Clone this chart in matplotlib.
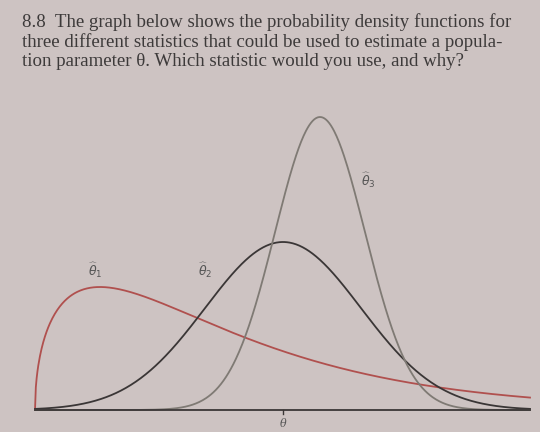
import numpy as np
import matplotlib
matplotlib.use("Agg")
import matplotlib.pyplot as plt

# curve parameters (pixel-space model of the printed densities)
base_y = 410
x0, x1 = 35, 530
red_shape, red_scale, red_peak = 1.5, 130, 123   # theta1: skewed
dark_mu, dark_sd, dark_peak = 283, 78, 168      # theta2: wide normal
gray_mu, gray_sd, gray_peak = 320, 45, 293      # theta3: narrow normal
labels = ["$\\widehat{\\theta}_1$", "$\\widehat{\\theta}_2$", "$\\widehat{\\theta}_3$"]
label_pos = [(95, 270), (205, 270), (368, 180)]
text_lines = ["8.8  The graph below shows the probability density functions for",
              "three different statistics that could be used to estimate a popula-",
              "tion parameter θ. Which statistic would you use, and why?"]

fig = plt.figure(figsize=(5.4, 4.32), dpi=100)
fig.patch.set_facecolor("#cdc3c2")
ax = fig.add_axes([0, 0, 1, 1])
ax.set_facecolor("#cdc3c2")
ax.set_xlim(0, 540); ax.set_ylim(432, 0); ax.axis("off")

x = np.linspace(x0, x1, 600)
t = (x - x0) / red_scale
tm = red_shape - 1
g = t**(red_shape - 1) * np.exp(-t)
gm = tm**(red_shape - 1) * np.exp(-tm)
ax.plot(x, base_y - red_peak * g / gm, color="#b0504e", lw=1.3)
ax.plot(x, base_y - dark_peak * np.exp(-0.5 * ((x - dark_mu) / dark_sd)**2), color="#3a3636", lw=1.3)
ax.plot(x, base_y - gray_peak * np.exp(-0.5 * ((x - gray_mu) / gray_sd)**2), color="#7f7a74", lw=1.3)
ax.plot([x0, x1], [base_y, base_y], color="#3a3636", lw=1.3)
ax.plot([283, 283], [base_y, base_y + 4], color="#3a3636", lw=1)
ax.text(283, 424, "θ", ha="center", va="center", fontsize=8, style="italic", color="#555", family="DejaVu Serif")
for lab, (px, py) in zip(labels, label_pos):
    ax.text(px, py, lab, ha="center", va="center", fontsize=9, color="#555")
for i, line in enumerate(text_lines):
    ax.text(22, 22 + 20 * i, line, ha="left", va="center", fontsize=13.6,
            color="#3d3a3a", family="Liberation Serif")
fig.savefig("out.png", dpi=100, facecolor=fig.get_facecolor())
